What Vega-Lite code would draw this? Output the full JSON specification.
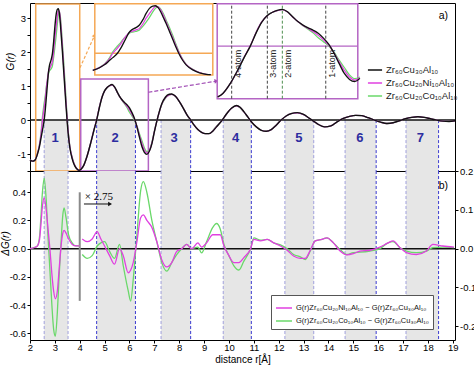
{
  "$schema": "https://vega.github.io/schema/vega-lite/v6.json",
  "padding": {"left": 0, "top": 2, "right": 0, "bottom": 0},
  "spacing": 0,
  "bounds": "flush",
  "datasets": {
    "top": [
      {"r":2.0,"k":-1.17,"m":-1.17,"g":-1.17},
      {"r":2.1,"k":-1.21,"m":-1.21,"g":-1.21},
      {"r":2.2,"k":-1.18,"m":-1.18,"g":-1.18},
      {"r":2.3,"k":-1.0,"m":-0.99,"g":-0.99},
      {"r":2.38,"k":-0.78,"m":-0.74,"g":-0.72},
      {"r":2.45,"k":-0.5,"m":-0.38,"g":-0.32},
      {"r":2.5,"k":-0.3,"m":0.0,"g":0.1},
      {"r":2.57,"k":0.0,"m":0.36,"g":0.5},
      {"r":2.62,"k":0.35,"m":0.65,"g":0.75},
      {"r":2.66,"k":0.7,"m":0.95,"g":1.0},
      {"r":2.7,"k":1.05,"m":1.2,"g":1.18},
      {"r":2.74,"k":1.4,"m":1.4,"g":1.35},
      {"r":2.78,"k":1.6,"m":1.5,"g":1.45},
      {"r":2.84,"k":1.75,"m":1.6,"g":1.5},
      {"r":2.9,"k":1.95,"m":1.72,"g":1.6},
      {"r":2.95,"k":2.3,"m":2.02,"g":1.85},
      {"r":3.0,"k":2.75,"m":2.42,"g":2.15},
      {"r":3.05,"k":3.1,"m":2.75,"g":2.48},
      {"r":3.1,"k":3.26,"m":3.05,"g":2.85},
      {"r":3.14,"k":3.28,"m":3.22,"g":3.1},
      {"r":3.18,"k":3.15,"m":3.2,"g":3.2},
      {"r":3.22,"k":2.85,"m":2.98,"g":3.05},
      {"r":3.26,"k":2.45,"m":2.6,"g":2.72},
      {"r":3.3,"k":2.05,"m":2.18,"g":2.3},
      {"r":3.35,"k":1.5,"m":1.63,"g":1.78},
      {"r":3.4,"k":0.95,"m":1.07,"g":1.22},
      {"r":3.45,"k":0.4,"m":0.5,"g":0.6},
      {"r":3.5,"k":-0.1,"m":-0.02,"g":0.02},
      {"r":3.55,"k":-0.5,"m":-0.45,"g":-0.42},
      {"r":3.6,"k":-0.8,"m":-0.77,"g":-0.76},
      {"r":3.7,"k":-1.15,"m":-1.12,"g":-1.11},
      {"r":3.8,"k":-1.35,"m":-1.33,"g":-1.33},
      {"r":3.9,"k":-1.45,"m":-1.45,"g":-1.45},
      {"r":3.97,"k":-1.48,"m":-1.48,"g":-1.48},
      {"r":4.05,"k":-1.45,"m":-1.45,"g":-1.45},
      {"r":4.15,"k":-1.35,"m":-1.35,"g":-1.35},
      {"r":4.3,"k":-1.05,"m":-1.05,"g":-1.05},
      {"r":4.45,"k":-0.65,"m":-0.65,"g":-0.65},
      {"r":4.57,"k":-0.3,"m":-0.29,"g":-0.3},
      {"r":4.68,"k":0.0,"m":0.01,"g":0.0},
      {"r":4.8,"k":0.4,"m":0.42,"g":0.41},
      {"r":4.9,"k":0.68,"m":0.69,"g":0.69},
      {"r":5.0,"k":0.86,"m":0.86,"g":0.87},
      {"r":5.1,"k":0.96,"m":0.96,"g":0.96},
      {"r":5.2,"k":1.02,"m":1.01,"g":1.01},
      {"r":5.3,"k":1.05,"m":1.04,"g":1.04},
      {"r":5.4,"k":0.98,"m":0.97,"g":0.97},
      {"r":5.5,"k":0.84,"m":0.83,"g":0.83},
      {"r":5.6,"k":0.7,"m":0.7,"g":0.7},
      {"r":5.7,"k":0.6,"m":0.59,"g":0.58},
      {"r":5.8,"k":0.52,"m":0.5,"g":0.48},
      {"r":5.9,"k":0.45,"m":0.41,"g":0.37},
      {"r":6.0,"k":0.36,"m":0.3,"g":0.23},
      {"r":6.1,"k":0.22,"m":0.17,"g":0.12},
      {"r":6.2,"k":0.05,"m":0.03,"g":0.0},
      {"r":6.3,"k":-0.2,"m":-0.19,"g":-0.17},
      {"r":6.4,"k":-0.5,"m":-0.45,"g":-0.4},
      {"r":6.5,"k":-0.78,"m":-0.69,"g":-0.61},
      {"r":6.6,"k":-0.95,"m":-0.88,"g":-0.82},
      {"r":6.7,"k":-1.01,"m":-0.97,"g":-0.93},
      {"r":6.8,"k":-0.92,"m":-0.9,"g":-0.88},
      {"r":6.9,"k":-0.7,"m":-0.68,"g":-0.66},
      {"r":7.0,"k":-0.35,"m":-0.34,"g":-0.34},
      {"r":7.1,"k":-0.03,"m":-0.03,"g":-0.03},
      {"r":7.2,"k":0.25,"m":0.24,"g":0.24},
      {"r":7.3,"k":0.48,"m":0.47,"g":0.46},
      {"r":7.45,"k":0.68,"m":0.66,"g":0.65},
      {"r":7.6,"k":0.76,"m":0.74,"g":0.74},
      {"r":7.7,"k":0.77,"m":0.76,"g":0.76},
      {"r":7.85,"k":0.7,"m":0.7,"g":0.7},
      {"r":8.0,"k":0.55,"m":0.55,"g":0.55},
      {"r":8.15,"k":0.37,"m":0.37,"g":0.37},
      {"r":8.3,"k":0.17,"m":0.17,"g":0.17},
      {"r":8.46,"k":0.0,"m":0.0,"g":0.0},
      {"r":8.6,"k":-0.15,"m":-0.15,"g":-0.15},
      {"r":8.75,"k":-0.28,"m":-0.28,"g":-0.28},
      {"r":8.9,"k":-0.36,"m":-0.36,"g":-0.36},
      {"r":9.05,"k":-0.4,"m":-0.4,"g":-0.4},
      {"r":9.2,"k":-0.4,"m":-0.4,"g":-0.4},
      {"r":9.35,"k":-0.33,"m":-0.32,"g":-0.31},
      {"r":9.5,"k":-0.2,"m":-0.19,"g":-0.18},
      {"r":9.73,"k":0.0,"m":0.0,"g":0.0},
      {"r":9.9,"k":0.18,"m":0.18,"g":0.18},
      {"r":10.1,"k":0.35,"m":0.35,"g":0.35},
      {"r":10.3,"k":0.43,"m":0.42,"g":0.42},
      {"r":10.45,"k":0.38,"m":0.37,"g":0.36},
      {"r":10.6,"k":0.25,"m":0.24,"g":0.24},
      {"r":10.75,"k":0.1,"m":0.1,"g":0.1},
      {"r":10.9,"k":-0.05,"m":-0.05,"g":-0.05},
      {"r":11.1,"k":-0.2,"m":-0.2,"g":-0.2},
      {"r":11.3,"k":-0.3,"m":-0.3,"g":-0.3},
      {"r":11.5,"k":-0.33,"m":-0.33,"g":-0.33},
      {"r":11.7,"k":-0.28,"m":-0.28,"g":-0.28},
      {"r":11.9,"k":-0.15,"m":-0.15,"g":-0.15},
      {"r":12.1,"k":0.0,"m":0.0,"g":0.0},
      {"r":12.3,"k":0.12,"m":0.12,"g":0.12},
      {"r":12.5,"k":0.19,"m":0.19,"g":0.19},
      {"r":12.75,"k":0.22,"m":0.21,"g":0.21},
      {"r":13.0,"k":0.17,"m":0.16,"g":0.16},
      {"r":13.2,"k":0.07,"m":0.07,"g":0.07},
      {"r":13.4,"k":-0.03,"m":-0.03,"g":-0.03},
      {"r":13.6,"k":-0.13,"m":-0.13,"g":-0.13},
      {"r":13.85,"k":-0.2,"m":-0.2,"g":-0.2},
      {"r":14.1,"k":-0.17,"m":-0.17,"g":-0.17},
      {"r":14.35,"k":-0.05,"m":-0.05,"g":-0.05},
      {"r":14.6,"k":0.05,"m":0.05,"g":0.05},
      {"r":14.85,"k":0.11,"m":0.11,"g":0.11},
      {"r":15.1,"k":0.14,"m":0.14,"g":0.14},
      {"r":15.35,"k":0.13,"m":0.13,"g":0.13},
      {"r":15.6,"k":0.07,"m":0.07,"g":0.07},
      {"r":15.85,"k":0.0,"m":0.0,"g":0.0},
      {"r":16.1,"k":-0.06,"m":-0.06,"g":-0.06},
      {"r":16.35,"k":-0.1,"m":-0.1,"g":-0.1},
      {"r":16.6,"k":-0.08,"m":-0.08,"g":-0.08},
      {"r":16.85,"k":-0.02,"m":-0.02,"g":-0.02},
      {"r":17.1,"k":0.04,"m":0.04,"g":0.04},
      {"r":17.35,"k":0.08,"m":0.08,"g":0.08},
      {"r":17.6,"k":0.1,"m":0.1,"g":0.1},
      {"r":17.85,"k":0.08,"m":0.08,"g":0.08},
      {"r":18.1,"k":0.04,"m":0.04,"g":0.04},
      {"r":18.35,"k":0.0,"m":0.0,"g":0.0},
      {"r":18.6,"k":-0.03,"m":-0.03,"g":-0.03},
      {"r":18.85,"k":-0.04,"m":-0.04,"g":-0.04},
      {"r":19.09,"k":-0.02,"m":-0.02,"g":-0.02}
    ],
    "bands": [
      {"n":"1","lo":2.57,"hi":3.53,"c":3.01,"tl":"l","th":"l"},
      {"n":"2","lo":4.68,"hi":6.24,"c":5.42,"tl":"d","th":"d"},
      {"n":"3","lo":7.27,"hi":8.46,"c":7.79,"tl":"l","th":"d"},
      {"n":"4","lo":9.77,"hi":10.9,"c":10.27,"tl":"l","th":"d"},
      {"n":"5","lo":12.25,"hi":13.41,"c":12.81,"tl":"l","th":"l"},
      {"n":"6","lo":14.67,"hi":15.92,"c":15.26,"tl":"l","th":"d"},
      {"n":"7","lo":17.12,"hi":18.43,"c":17.7,"tl":"l","th":"d"}
    ],
    "atoms": [
      {"a":"4-atom","r":4.32,"t":"o"},
      {"a":"3-atom","r":5.01,"t":"o"},
      {"a":"2-atom","r":5.3,"t":"g"},
      {"a":"1-atom","r":6.14,"t":"o"}
    ],
    "dA": [
      {"r":2.0,"ni":0.0,"co":0.0},
      {"r":2.2,"ni":0.01,"co":0.01},
      {"r":2.3,"ni":0.02,"co":0.02},
      {"r":2.38,"ni":0.06,"co":0.08},
      {"r":2.43,"ni":0.15,"co":0.2},
      {"r":2.5,"ni":0.3,"co":0.4},
      {"r":2.57,"ni":0.36,"co":0.5},
      {"r":2.65,"ni":0.28,"co":0.35},
      {"r":2.72,"ni":0.15,"co":0.1},
      {"r":2.8,"ni":0.0,"co":-0.15},
      {"r":2.88,"ni":-0.18,"co":-0.4},
      {"r":2.95,"ni":-0.3,"co":-0.57},
      {"r":3.02,"ni":-0.355,"co":-0.62},
      {"r":3.1,"ni":-0.3,"co":-0.45},
      {"r":3.17,"ni":-0.15,"co":-0.2},
      {"r":3.25,"ni":0.02,"co":0.05},
      {"r":3.32,"ni":0.11,"co":0.24},
      {"r":3.37,"ni":0.13,"co":0.29},
      {"r":3.45,"ni":0.11,"co":0.22},
      {"r":3.55,"ni":0.07,"co":0.1},
      {"r":3.7,"ni":0.03,"co":0.04},
      {"r":3.85,"ni":0.02,"co":0.02},
      {"r":4.0,"ni":0.02,"co":0.02}
    ],
    "dB": [
      {"r":4.1,"ni":0.025,"co":-0.015},
      {"r":4.3,"ni":0.018,"co":-0.025},
      {"r":4.5,"ni":0.025,"co":-0.018},
      {"r":4.7,"ni":0.044,"co":0.007},
      {"r":4.85,"ni":0.025,"co":0.015},
      {"r":5.0,"ni":0.007,"co":0.018},
      {"r":5.2,"ni":-0.018,"co":-0.007},
      {"r":5.4,"ni":-0.04,"co":-0.025},
      {"r":5.6,"ni":0.0,"co":0.011},
      {"r":5.75,"ni":-0.018,"co":-0.044},
      {"r":5.95,"ni":-0.062,"co":-0.109},
      {"r":6.05,"ni":-0.055,"co":-0.135},
      {"r":6.15,"ni":-0.036,"co":-0.08},
      {"r":6.3,"ni":0.018,"co":0.036},
      {"r":6.45,"ni":0.08,"co":0.15},
      {"r":6.56,"ni":0.087,"co":0.173},
      {"r":6.7,"ni":0.073,"co":0.145},
      {"r":6.9,"ni":0.055,"co":0.073},
      {"r":7.1,"ni":0.018,"co":0.018},
      {"r":7.3,"ni":-0.029,"co":-0.036},
      {"r":7.5,"ni":-0.047,"co":-0.058},
      {"r":7.7,"ni":-0.036,"co":-0.036},
      {"r":7.9,"ni":-0.007,"co":-0.015},
      {"r":8.1,"ni":0.0,"co":0.0},
      {"r":8.3,"ni":0.011,"co":0.011},
      {"r":8.5,"ni":0.0,"co":0.0},
      {"r":8.75,"ni":0.015,"co":0.004},
      {"r":8.9,"ni":0.004,"co":-0.011},
      {"r":9.1,"ni":0.015,"co":0.018},
      {"r":9.35,"ni":0.036,"co":0.055},
      {"r":9.5,"ni":0.036,"co":0.065},
      {"r":9.65,"ni":0.036,"co":0.051},
      {"r":9.8,"ni":0.007,"co":0.011},
      {"r":10.0,"ni":-0.018,"co":-0.018},
      {"r":10.2,"ni":-0.036,"co":-0.044},
      {"r":10.4,"ni":-0.036,"co":-0.055},
      {"r":10.6,"ni":-0.023,"co":-0.032},
      {"r":10.87,"ni":0.0,"co":0.0},
      {"r":11.0,"ni":0.024,"co":0.028},
      {"r":11.27,"ni":0.02,"co":0.022},
      {"r":11.54,"ni":0.024,"co":0.024},
      {"r":11.8,"ni":0.015,"co":0.015},
      {"r":12.07,"ni":0.007,"co":0.01},
      {"r":12.34,"ni":-0.004,"co":0.0},
      {"r":12.6,"ni":-0.019,"co":-0.015},
      {"r":12.87,"ni":-0.025,"co":-0.021},
      {"r":13.07,"ni":-0.025,"co":-0.028},
      {"r":13.27,"ni":-0.004,"co":-0.006},
      {"r":13.47,"ni":0.02,"co":0.02},
      {"r":13.74,"ni":0.024,"co":0.024},
      {"r":13.94,"ni":0.028,"co":0.028},
      {"r":14.2,"ni":0.015,"co":0.015},
      {"r":14.47,"ni":-0.006,"co":-0.002},
      {"r":14.74,"ni":-0.016,"co":-0.015},
      {"r":15.0,"ni":-0.013,"co":-0.01},
      {"r":15.27,"ni":-0.006,"co":-0.009},
      {"r":15.67,"ni":-0.004,"co":-0.006},
      {"r":16.07,"ni":0.004,"co":0.0},
      {"r":16.4,"ni":0.015,"co":0.015},
      {"r":16.6,"ni":0.02,"co":0.018},
      {"r":16.87,"ni":0.003,"co":0.003},
      {"r":17.14,"ni":-0.01,"co":-0.006},
      {"r":17.54,"ni":-0.015,"co":-0.01},
      {"r":17.94,"ni":-0.006,"co":-0.006},
      {"r":18.2,"ni":0.011,"co":0.003},
      {"r":18.6,"ni":0.007,"co":0.004},
      {"r":19.05,"ni":0.004,"co":0.003}
    ]
  },
  "vconcat": [
    {
      "width": 425,
      "height": 168,
      "layer": [
        {
          "layer": [
            {
              "data": {"name": "bands"},
              "mark": {"type": "rect", "fill": "#e6e6e6"},
              "encoding": {
                "x": {"field": "lo", "type": "quantitative", "scale": {"domain": [2.0, 19.09], "nice": false, "zero": false}, "axis": null},
                "x2": {"field": "hi"},
                "y": {"datum": 0, "type": "quantitative", "scale": {"domain": [-1.5, 3.45], "nice": false, "zero": false},
                  "axis": {"orient": "left", "title": "G(r)", "values": [-1.5, -1, -0.5, 0, 0.5, 1, 1.5, 2, 2.5, 3], "tickCount": 100, "labelOverlap": false, "labelExpr": "datum.value % 1 == 0 ? replace(format(datum.value, 'd'), '−', '-') : ''", "titleX": -15, "titleY": 58, "titleBaseline": "bottom", "titleFontStyle": "italic"}},
                "y2": {"datum": -1.5}
              }
            },
            {
              "data": {"name": "bands"},
              "mark": {"type": "rule", "strokeDash": [3, 2], "strokeWidth": 1},
              "encoding": {
                "x": {"field": "lo", "type": "quantitative", "scale": {"domain": [2.0, 19.09], "nice": false, "zero": false}},
                "y": {"datum": 0, "type": "quantitative", "scale": {"domain": [-1.5, 3.45], "nice": false, "zero": false}},
                "y2": {"datum": -1.5},
                "color": {"condition": {"test": "datum.tl == 'd'", "value": "#3b3bd0"}, "value": "#a0a0dc"}
              }
            },
            {
              "data": {"name": "bands"},
              "mark": {"type": "rule", "strokeDash": [3, 2], "strokeWidth": 1},
              "encoding": {
                "x": {"field": "hi", "type": "quantitative", "scale": {"domain": [2.0, 19.09], "nice": false, "zero": false}},
                "y": {"datum": 0, "type": "quantitative", "scale": {"domain": [-1.5, 3.45], "nice": false, "zero": false}},
                "y2": {"datum": -1.5},
                "color": {"condition": {"test": "datum.th == 'd'", "value": "#3b3bd0"}, "value": "#a0a0dc"}
              }
            },
            {
              "data": {"values": [{}]},
              "mark": {"type": "rule", "color": "#111", "strokeWidth": 1.5},
              "encoding": {"y": {"datum": 0, "type": "quantitative", "scale": {"domain": [-1.5, 3.45], "nice": false, "zero": false}}}
            },
            {
              "data": {"values": [{}]},
              "mark": {"type": "rect", "filled": false, "stroke": "#f5a855", "strokeWidth": 1.5},
              "encoding": {
                "x": {"datum": 2.23, "type": "quantitative", "scale": {"domain": [2.0, 19.09], "nice": false, "zero": false}}, "x2": {"datum": 4.0},
                "y": {"datum": 3.42, "type": "quantitative", "scale": {"domain": [-1.5, 3.45], "nice": false, "zero": false}}, "y2": {"datum": -1.5}
              }
            },
            {
              "data": {"values": [{}]},
              "mark": {"type": "rect", "filled": false, "stroke": "#b465c4", "strokeWidth": 1.5},
              "encoding": {
                "x": {"datum": 4.04, "type": "quantitative", "scale": {"domain": [2.0, 19.09], "nice": false, "zero": false}}, "x2": {"datum": 6.76},
                "y": {"datum": 1.21, "type": "quantitative", "scale": {"domain": [-1.5, 3.45], "nice": false, "zero": false}}, "y2": {"datum": -1.5}
              }
            },
            {
              "data": {"values": [{}]},
              "mark": {"type": "rule", "color": "#f5a855", "strokeDash": [3, 2], "strokeWidth": 1.2},
              "encoding": {
                "x": {"datum": 4.01, "type": "quantitative", "scale": {"domain": [2.0, 19.09], "nice": false, "zero": false}}, "x2": {"datum": 4.6},
                "y": {"datum": 1.54, "type": "quantitative", "scale": {"domain": [-1.5, 3.45], "nice": false, "zero": false}}, "y2": {"datum": 2.5}
              }
            },
            {
              "data": {"values": [{}]},
              "mark": {"type": "point", "shape": "triangle-up", "angle": 23, "size": 22, "filled": true, "color": "#f5a855", "opacity": 1},
              "encoding": {
                "x": {"datum": 4.6, "type": "quantitative", "scale": {"domain": [2.0, 19.09], "nice": false, "zero": false}},
                "y": {"datum": 2.5, "type": "quantitative", "scale": {"domain": [-1.5, 3.45], "nice": false, "zero": false}}
              }
            },
            {
              "data": {"values": [{}]},
              "mark": {"type": "rule", "color": "#a04cb4", "strokeDash": [4, 2], "strokeWidth": 1.2},
              "encoding": {
                "x": {"datum": 6.76, "type": "quantitative", "scale": {"domain": [2.0, 19.09], "nice": false, "zero": false}}, "x2": {"datum": 9.5},
                "y": {"datum": 0.82, "type": "quantitative", "scale": {"domain": [-1.5, 3.45], "nice": false, "zero": false}}, "y2": {"datum": 1.15}
              }
            },
            {
              "data": {"values": [{}]},
              "mark": {"type": "point", "shape": "triangle-up", "angle": 81, "size": 22, "filled": true, "color": "#a04cb4", "opacity": 1},
              "encoding": {
                "x": {"datum": 9.5, "type": "quantitative", "scale": {"domain": [2.0, 19.09], "nice": false, "zero": false}},
                "y": {"datum": 1.15, "type": "quantitative", "scale": {"domain": [-1.5, 3.45], "nice": false, "zero": false}}
              }
            },
            {
              "data": {"name": "top"},
              "mark": {"type": "line", "strokeWidth": 1.3, "interpolate": "monotone"},
              "encoding": {
                "x": {"field": "r", "type": "quantitative", "scale": {"domain": [2.0, 19.09], "nice": false, "zero": false}},
                "y": {"field": "g", "type": "quantitative", "scale": {"domain": [-1.5, 3.45], "nice": false, "zero": false}},
                "color": {"datum": "Zr₆₀Cu₂₀Co₁₀Al₁₀", "type": "nominal",
                  "scale": {"domain": ["Zr₆₀Cu₃₀Al₁₀", "Zr₆₀Cu₂₀Ni₁₀Al₁₀", "Zr₆₀Cu₂₀Co₁₀Al₁₀"], "range": ["#111111", "#e040e0", "#6ad86a"]},
                  "legend": {"orient": "none", "legendX": 337, "legendY": 59, "symbolType": "stroke", "symbolSize": 200, "symbolStrokeWidth": 1.5, "labelFontSize": 9.5, "labelFont": "Liberation Sans", "labelColor": "#222", "rowPadding": -2.5, "title": null, "padding": 0, "labelLimit": 200, "labelOffset": 3}}
              }
            },
            {
              "data": {"name": "top"},
              "mark": {"type": "line", "strokeWidth": 1.3, "interpolate": "monotone"},
              "encoding": {
                "x": {"field": "r", "type": "quantitative", "scale": {"domain": [2.0, 19.09], "nice": false, "zero": false}},
                "y": {"field": "m", "type": "quantitative", "scale": {"domain": [-1.5, 3.45], "nice": false, "zero": false}},
                "color": {"datum": "Zr₆₀Cu₂₀Ni₁₀Al₁₀", "type": "nominal"}
              }
            },
            {
              "data": {"name": "top"},
              "mark": {"type": "line", "strokeWidth": 1.4, "interpolate": "monotone"},
              "encoding": {
                "x": {"field": "r", "type": "quantitative", "scale": {"domain": [2.0, 19.09], "nice": false, "zero": false}},
                "y": {"field": "k", "type": "quantitative", "scale": {"domain": [-1.5, 3.45], "nice": false, "zero": false}},
                "color": {"datum": "Zr₆₀Cu₃₀Al₁₀", "type": "nominal"}
              }
            },
            {
              "data": {"name": "bands"},
              "mark": {"type": "text", "fontSize": 13, "fontWeight": "bold", "color": "#2d2da0", "baseline": "middle"},
              "encoding": {
                "x": {"field": "c", "type": "quantitative", "scale": {"domain": [2.0, 19.09], "nice": false, "zero": false}},
                "y": {"datum": -0.52, "type": "quantitative", "scale": {"domain": [-1.5, 3.45], "nice": false, "zero": false}},
                "text": {"field": "n"}
              }
            },
            {
              "data": {"values": [{}]},
              "mark": {"type": "text", "text": "a)", "fontSize": 10.5, "baseline": "middle"},
              "encoding": {
                "x": {"datum": 18.62, "type": "quantitative", "scale": {"domain": [2.0, 19.09], "nice": false, "zero": false}},
                "y": {"datum": 3.06, "type": "quantitative", "scale": {"domain": [-1.5, 3.45], "nice": false, "zero": false}}
              }
            }
          ]
        },
        {
          "layer": [
            {
              "data": {"values": [{}]},
              "mark": {"type": "rect", "fill": "#ffffff", "stroke": "#f5a855", "strokeWidth": 1.5},
              "encoding": {
                "x": {"datum": 2.23, "type": "quantitative", "scale": {"domain": [2.23, 4.0], "range": [64.8, 182.8], "nice": false, "zero": false}, "axis": null},
                "x2": {"datum": 4.0},
                "y": {"datum": -1.5, "type": "quantitative", "scale": {"domain": [-1.5, 3.42], "range": [72, 0.7], "nice": false, "zero": false}, "axis": null},
                "y2": {"datum": 3.42}
              }
            },
            {
              "data": {"values": [{}]},
              "mark": {"type": "rule", "color": "#f5a855", "strokeWidth": 1.3},
              "encoding": {
                "x": {"datum": 2.23, "type": "quantitative", "scale": {"domain": [2.23, 4.0], "range": [64.8, 182.8], "nice": false, "zero": false}}, "x2": {"datum": 4.0},
                "y": {"datum": 0, "type": "quantitative", "scale": {"domain": [-1.5, 3.42], "range": [72, 0.7], "nice": false, "zero": false}}
              }
            },
            {
              "data": {"name": "top"},
              "transform": [{"filter": {"field": "r", "range": [2.2, 4.0]}}],
              "mark": {"type": "line", "strokeWidth": 1.2, "interpolate": "monotone", "color": "#6ad86a"},
              "encoding": {
                "x": {"field": "r", "type": "quantitative", "scale": {"domain": [2.23, 4.0], "range": [64.8, 182.8], "nice": false, "zero": false}},
                "y": {"field": "g", "type": "quantitative", "scale": {"domain": [-1.5, 3.42], "range": [72, 0.7], "nice": false, "zero": false}}
              }
            },
            {
              "data": {"name": "top"},
              "transform": [{"filter": {"field": "r", "range": [2.2, 4.0]}}],
              "mark": {"type": "line", "strokeWidth": 1.2, "interpolate": "monotone", "color": "#e040e0"},
              "encoding": {
                "x": {"field": "r", "type": "quantitative", "scale": {"domain": [2.23, 4.0], "range": [64.8, 182.8], "nice": false, "zero": false}},
                "y": {"field": "m", "type": "quantitative", "scale": {"domain": [-1.5, 3.42], "range": [72, 0.7], "nice": false, "zero": false}}
              }
            },
            {
              "data": {"name": "top"},
              "transform": [{"filter": {"field": "r", "range": [2.2, 4.0]}}],
              "mark": {"type": "line", "strokeWidth": 1.3, "interpolate": "monotone", "color": "#111111"},
              "encoding": {
                "x": {"field": "r", "type": "quantitative", "scale": {"domain": [2.23, 4.0], "range": [64.8, 182.8], "nice": false, "zero": false}},
                "y": {"field": "k", "type": "quantitative", "scale": {"domain": [-1.5, 3.42], "range": [72, 0.7], "nice": false, "zero": false}}
              }
            }
          ]
        },
        {
          "layer": [
            {
              "data": {"values": [{}]},
              "mark": {"type": "rect", "fill": "#ffffff", "stroke": "#b465c4", "strokeWidth": 1.5},
              "encoding": {
                "x": {"datum": 4.04, "type": "quantitative", "scale": {"domain": [4.04, 6.76], "range": [187.2, 327.8], "nice": false, "zero": false}, "axis": null},
                "x2": {"datum": 6.76},
                "y": {"datum": -1.5, "type": "quantitative", "scale": {"domain": [-1.5, 1.21], "range": [95.7, 0.7], "nice": false, "zero": false}, "axis": null},
                "y2": {"datum": 1.21}
              }
            },
            {
              "data": {"values": [{}]},
              "mark": {"type": "rule", "color": "#b465c4", "strokeWidth": 1.3},
              "encoding": {
                "x": {"datum": 4.04, "type": "quantitative", "scale": {"domain": [4.04, 6.76], "range": [187.2, 327.8], "nice": false, "zero": false}}, "x2": {"datum": 6.76},
                "y": {"datum": 0, "type": "quantitative", "scale": {"domain": [-1.5, 1.21], "range": [95.7, 0.7], "nice": false, "zero": false}}
              }
            },
            {
              "data": {"name": "atoms"},
              "mark": {"type": "rule", "strokeDash": [3, 2], "strokeWidth": 1},
              "encoding": {
                "x": {"field": "r", "type": "quantitative", "scale": {"domain": [4.04, 6.76], "range": [187.2, 327.8], "nice": false, "zero": false}},
                "y": {"datum": -1.5, "type": "quantitative", "scale": {"domain": [-1.5, 1.21], "range": [95.7, 0.7], "nice": false, "zero": false}}, "y2": {"datum": 1.21},
                "color": {"condition": {"test": "datum.t == 'g'", "value": "#4f8f4f"}, "value": "#444444"}
              }
            },
            {
              "data": {"name": "atoms"},
              "mark": {"type": "text", "angle": 270, "fontSize": 9, "align": "center", "baseline": "top", "dy": 2, "color": "#222"},
              "encoding": {
                "x": {"field": "r", "type": "quantitative", "scale": {"domain": [4.04, 6.76], "range": [187.2, 327.8], "nice": false, "zero": false}},
                "y": {"datum": -0.5, "type": "quantitative", "scale": {"domain": [-1.5, 1.21], "range": [95.7, 0.7], "nice": false, "zero": false}},
                "text": {"field": "a"}
              }
            },
            {
              "data": {"name": "top"},
              "transform": [{"filter": {"field": "r", "range": [4.0, 6.8]}}],
              "mark": {"type": "line", "strokeWidth": 1.2, "interpolate": "monotone", "color": "#6ad86a"},
              "encoding": {
                "x": {"field": "r", "type": "quantitative", "scale": {"domain": [4.04, 6.76], "range": [187.2, 327.8], "nice": false, "zero": false}},
                "y": {"field": "g", "type": "quantitative", "scale": {"domain": [-1.5, 1.21], "range": [95.7, 0.7], "nice": false, "zero": false}}
              }
            },
            {
              "data": {"name": "top"},
              "transform": [{"filter": {"field": "r", "range": [4.0, 6.8]}}],
              "mark": {"type": "line", "strokeWidth": 1.2, "interpolate": "monotone", "color": "#e040e0"},
              "encoding": {
                "x": {"field": "r", "type": "quantitative", "scale": {"domain": [4.04, 6.76], "range": [187.2, 327.8], "nice": false, "zero": false}},
                "y": {"field": "m", "type": "quantitative", "scale": {"domain": [-1.5, 1.21], "range": [95.7, 0.7], "nice": false, "zero": false}}
              }
            },
            {
              "data": {"name": "top"},
              "transform": [{"filter": {"field": "r", "range": [4.0, 6.8]}}],
              "mark": {"type": "line", "strokeWidth": 1.3, "interpolate": "monotone", "color": "#111111"},
              "encoding": {
                "x": {"field": "r", "type": "quantitative", "scale": {"domain": [4.04, 6.76], "range": [187.2, 327.8], "nice": false, "zero": false}},
                "y": {"field": "k", "type": "quantitative", "scale": {"domain": [-1.5, 1.21], "range": [95.7, 0.7], "nice": false, "zero": false}}
              }
            }
          ]
        }
      ],
      "resolve": {"scale": {"x": "independent", "y": "independent"}}
    },
    {
      "width": 425,
      "height": 169,
      "layer": [
        {
          "layer": [
            {
              "data": {"name": "bands"},
              "mark": {"type": "rect", "fill": "#e6e6e6"},
              "encoding": {
                "x": {"field": "lo", "type": "quantitative", "scale": {"domain": [2.0, 19.09], "nice": false, "zero": false},
                  "axis": {"orient": "bottom", "values": [2,3,4,5,6,7,8,9,10,11,12,13,14,15,16,17,18,19], "tickCount": 100, "format": "d", "title": "distance r[Å]", "labelOverlap": false, "labelFlush": false, "labelPadding": -1, "titlePadding": 3}},
                "x2": {"field": "hi"},
                "y": {"datum": 0.551, "type": "quantitative", "scale": {"domain": [-0.6475, 0.551], "nice": false, "zero": false},
                  "axis": {"orient": "left", "title": "ΔG(r)", "values": [-0.6, -0.4, -0.2, 0, 0.2, 0.4], "tickCount": 100, "format": ".1f", "labelOverlap": false, "labelExpr": "replace(datum.label, '−', '-')", "titleX": -19.5, "titleY": 72, "titleBaseline": "bottom", "titleFontStyle": "italic"}},
                "y2": {"datum": -0.6475}
              }
            },
            {
              "data": {"name": "bands"},
              "mark": {"type": "rule", "strokeDash": [3, 2], "strokeWidth": 1},
              "encoding": {
                "x": {"field": "lo", "type": "quantitative", "scale": {"domain": [2.0, 19.09], "nice": false, "zero": false}},
                "color": {"condition": {"test": "datum.tl == 'd'", "value": "#3b3bd0"}, "value": "#a0a0dc"}
              }
            },
            {
              "data": {"name": "bands"},
              "mark": {"type": "rule", "strokeDash": [3, 2], "strokeWidth": 1},
              "encoding": {
                "x": {"field": "hi", "type": "quantitative", "scale": {"domain": [2.0, 19.09], "nice": false, "zero": false}},
                "color": {"condition": {"test": "datum.th == 'd'", "value": "#3b3bd0"}, "value": "#a0a0dc"}
              }
            },
            {
              "data": {"values": [{}]},
              "mark": {"type": "rule", "color": "#111", "strokeWidth": 1.5},
              "encoding": {"y": {"datum": 0, "type": "quantitative", "scale": {"domain": [-0.6475, 0.551], "nice": false, "zero": false}}}
            },
            {
              "data": {"values": [{}]},
              "mark": {"type": "rule", "color": "#8a8a8a", "strokeWidth": 2},
              "encoding": {
                "x": {"datum": 4.0, "type": "quantitative", "scale": {"domain": [2.0, 19.09], "nice": false, "zero": false}},
                "y": {"datum": 0.4, "type": "quantitative", "scale": {"domain": [-0.6475, 0.551], "nice": false, "zero": false}}, "y2": {"datum": -0.37}
              }
            },
            {
              "data": {"name": "dA"},
              "mark": {"type": "line", "strokeWidth": 1.3, "interpolate": "monotone", "color": "#6ad86a"},
              "encoding": {
                "x": {"field": "r", "type": "quantitative", "scale": {"domain": [2.0, 19.09], "nice": false, "zero": false}},
                "y": {"field": "co", "type": "quantitative", "scale": {"domain": [-0.6475, 0.551], "nice": false, "zero": false}}
              }
            },
            {
              "data": {"name": "dA"},
              "mark": {"type": "line", "strokeWidth": 1.3, "interpolate": "monotone", "color": "#e040e0"},
              "encoding": {
                "x": {"field": "r", "type": "quantitative", "scale": {"domain": [2.0, 19.09], "nice": false, "zero": false}},
                "y": {"field": "ni", "type": "quantitative", "scale": {"domain": [-0.6475, 0.551], "nice": false, "zero": false}}
              }
            },
            {
              "data": {"values": [{}]},
              "mark": {"type": "text", "text": "× 2.75", "font": "Liberation Serif", "fontSize": 11, "align": "left", "baseline": "middle"},
              "encoding": {
                "x": {"datum": 4.2, "type": "quantitative", "scale": {"domain": [2.0, 19.09], "nice": false, "zero": false}},
                "y": {"datum": 0.365, "type": "quantitative", "scale": {"domain": [-0.6475, 0.551], "nice": false, "zero": false}}
              }
            },
            {
              "data": {"values": [{}]},
              "mark": {"type": "rule", "color": "#111", "strokeWidth": 1},
              "encoding": {
                "x": {"datum": 4.17, "type": "quantitative", "scale": {"domain": [2.0, 19.09], "nice": false, "zero": false}}, "x2": {"datum": 5.2},
                "y": {"datum": 0.317, "type": "quantitative", "scale": {"domain": [-0.6475, 0.551], "nice": false, "zero": false}}
              }
            },
            {
              "data": {"values": [{}]},
              "mark": {"type": "point", "shape": "triangle-right", "size": 20, "filled": true, "color": "#111", "opacity": 1},
              "encoding": {
                "x": {"datum": 5.22, "type": "quantitative", "scale": {"domain": [2.0, 19.09], "nice": false, "zero": false}},
                "y": {"datum": 0.317, "type": "quantitative", "scale": {"domain": [-0.6475, 0.551], "nice": false, "zero": false}}
              }
            },
            {
              "data": {"values": [{}]},
              "mark": {"type": "text", "text": "b)", "fontSize": 10.5, "baseline": "middle"},
              "encoding": {
                "x": {"datum": 18.62, "type": "quantitative", "scale": {"domain": [2.0, 19.09], "nice": false, "zero": false}},
                "y": {"datum": 0.445, "type": "quantitative", "scale": {"domain": [-0.6475, 0.551], "nice": false, "zero": false}}
              }
            }
          ]
        },
        {
          "layer": [
            {
              "data": {"name": "dB"},
              "mark": {"type": "line", "strokeWidth": 1.3, "interpolate": "monotone"},
              "encoding": {
                "x": {"field": "r", "type": "quantitative", "scale": {"domain": [2.0, 19.09], "nice": false, "zero": false}},
                "y": {"field": "co", "type": "quantitative", "scale": {"domain": [-0.2355, 0.2004], "nice": false, "zero": false},
                  "axis": {"orient": "right", "title": null, "values": [-0.2, -0.1, 0, 0.1, 0.2], "tickCount": 100, "format": ".1f", "labelOverlap": false, "labelExpr": "replace(datum.label, '−', '-')"}},
                "color": {"datum": "G(r)Zr₆₀Cu₂₀Co₁₀Al₁₀ − G(r)Zr₆₀Cu₃₀Al₁₀", "type": "nominal",
                  "scale": {"domain": ["G(r)Zr₆₀Cu₂₀Ni₁₀Al₁₀ − G(r)Zr₆₀Cu₃₀Al₁₀", "G(r)Zr₆₀Cu₂₀Co₁₀Al₁₀ − G(r)Zr₆₀Cu₃₀Al₁₀"], "range": ["#e040e0", "#6ad86a"]},
                  "legend": {"orient": "none", "legendX": 241, "legendY": 124, "symbolType": "stroke", "symbolSize": 256, "symbolStrokeWidth": 1.5, "labelFontSize": 7.5, "labelFont": "Liberation Sans", "labelColor": "#111", "title": null, "strokeColor": "#555", "fillColor": "#ffffff", "padding": 4, "rowPadding": -1, "labelLimit": 300, "labelOffset": 3}}
              }
            },
            {
              "data": {"name": "dB"},
              "mark": {"type": "line", "strokeWidth": 1.3, "interpolate": "monotone"},
              "encoding": {
                "x": {"field": "r", "type": "quantitative", "scale": {"domain": [2.0, 19.09], "nice": false, "zero": false}},
                "y": {"field": "ni", "type": "quantitative", "scale": {"domain": [-0.2355, 0.2004], "nice": false, "zero": false}},
                "color": {"datum": "G(r)Zr₆₀Cu₂₀Ni₁₀Al₁₀ − G(r)Zr₆₀Cu₃₀Al₁₀", "type": "nominal"}
              }
            }
          ]
        }
      ],
      "resolve": {"scale": {"y": "independent"}}
    }
  ],
  "resolve": {"scale": {"color": "independent"}, "legend": {"color": "independent"}},
  "config": {
    "view": {"stroke": "#000000", "strokeWidth": 1},
    "axis": {"labelFont": "Liberation Sans", "titleFont": "Liberation Sans", "labelFontSize": 9.5, "titleFontSize": 10, "labelColor": "#000", "titleColor": "#000", "tickColor": "#000", "domain": false, "grid": false, "titleFontWeight": "normal", "tickSize": 3, "labelPadding": 1.5, "labelOverlap": false, "labelFlush": false},
    "text": {"font": "Liberation Sans"}
  }
}
